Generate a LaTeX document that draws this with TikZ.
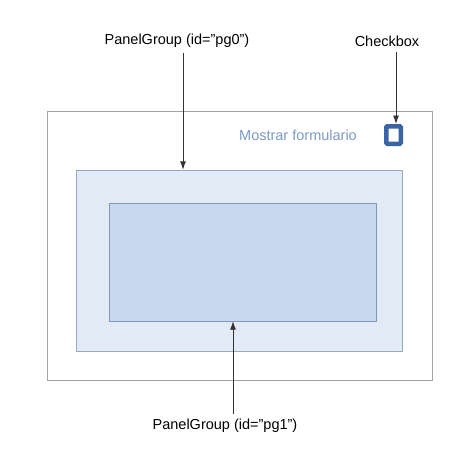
\documentclass[tikz,border=0pt]{standalone}
\usepackage{fontspec}
\setmainfont{Liberation Sans}
\usepackage{tikz}
\usetikzlibrary{arrows.meta}
\definecolor{framegray}{HTML}{A3A3A3}
\definecolor{pgzerofill}{HTML}{E2EAF5}
\definecolor{pgzerodraw}{HTML}{97A9C3}
\definecolor{pgonefill}{HTML}{C7D8EF}
\definecolor{pgonedraw}{HTML}{7F98BC}
\definecolor{cbblue}{HTML}{3B64A4}
\definecolor{titleblue}{HTML}{7B9CC5}
\definecolor{arrowgray}{HTML}{333333}
\begin{document}
\begin{tikzpicture}[x=1pt,y=-1pt,
        every node/.style={font=\fontsize{14.5}{17}\selectfont},
        panel/.style={rectangle,draw,inner sep=0pt},
        arr/.style={-{Latex[length=8.5pt,width=6pt]},draw=arrowgray,line width=0.9pt}]
        \useasboundingbox (0,0) rectangle (474,467);
        % Panels
        \node[panel,draw=framegray,fill=white,minimum width=385,minimum height=269] (outer) at (239.5,245.5) {};
        \node[panel,draw=pgzerodraw,fill=pgzerofill,minimum width=326,minimum height=181] (pgzero) at (239,260.5) {};
        \node[panel,draw=pgonedraw,fill=pgonefill,minimum width=267,minimum height=118] (pgone) at (242.5,262) {};
        % Checkbox
        \node[panel,draw=cbblue,line width=4.5pt,rounded corners=1pt,minimum width=14.5,minimum height=17.5] (checkbox) at (393.5,135) {};
        \node[text=titleblue] (title) at (298,135) {Mostrar formulario};
        % Labels
        \node (pgzerolabel) at (177,41) {PanelGroup (id=”pg0”)};
        \node (cblabel) at (387,41) {Checkbox};
        \node (pgonelabel) at (225,426) {PanelGroup (id=”pg1”)};
        % Arrows
        \draw[arr] ([xshift=6]pgzerolabel.south) ++(0,2) -- ([xshift=6]pgzerolabel.south |- pgzero.north);
        \draw[arr] ([xshift=9]cblabel.south) ++(0,2) -- ([xshift=9]cblabel.south |- checkbox.north);
        \draw[arr] ([xshift=8]pgonelabel.north) ++(0,-2) -- ([xshift=8]pgonelabel.north |- pgone.south);
    \end{tikzpicture}
\end{document}
